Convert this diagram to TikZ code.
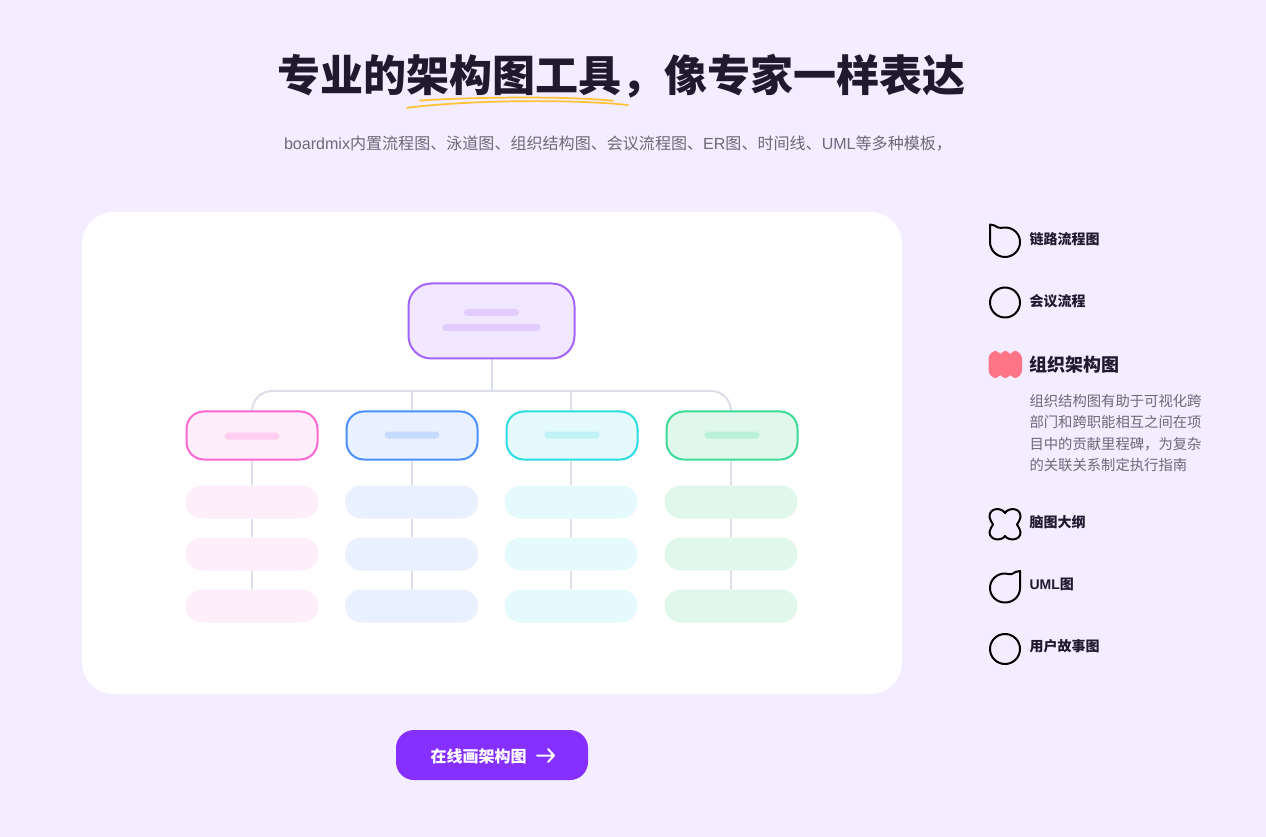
\documentclass[tikz,border=0pt]{standalone}
\usepackage{fontspec}
\setmainfont{Noto Sans CJK SC}
\newfontfamily\lat{Liberation Sans}
\pgfdeclarelayer{panel}
\pgfdeclarelayer{edges}
\pgfsetlayers{panel,edges,main}
\definecolor{pagebg}{HTML}{F4ECFF}
\definecolor{ink}{HTML}{1F1A2E}
\definecolor{soft}{HTML}{6E6879}
\definecolor{conn}{HTML}{DCDFE9}
\definecolor{purS}{HTML}{A463FB}\definecolor{purF}{HTML}{F1E8FF}\definecolor{purB}{HTML}{E0CCFD}
\definecolor{pinS}{HTML}{FF66D2}\definecolor{pinF}{HTML}{FEEEF9}\definecolor{pinB}{HTML}{FFCDF0}
\definecolor{bluS}{HTML}{4A8FFF}\definecolor{bluF}{HTML}{E9F1FE}\definecolor{bluB}{HTML}{C6DCFE}
\definecolor{cyaS}{HTML}{2BDCE3}\definecolor{cyaF}{HTML}{E4FAFC}\definecolor{cyaB}{HTML}{BFF3F6}
\definecolor{greS}{HTML}{3BDB96}\definecolor{greF}{HTML}{E0F7EC}\definecolor{greB}{HTML}{B9F0D6}
\definecolor{under}{HTML}{FFC233}
\definecolor{btn}{HTML}{8530FF}
\definecolor{blob}{HTML}{FF7486}
\newcommand{\sz}[1]{\fontsize{\dimexpr#1pt*3/4\relax}{\dimexpr#1pt*9/10\relax}\selectfont}
\newcommand{\fwc}{\char"FF0C\relax}
\tikzset{
  x=0.75pt,y=-0.75pt,
  rootbox/.style={draw=purS,fill=purF,line width=1.5pt,rounded corners=17pt,minimum width=124.5pt,minimum height=56.25pt,inner sep=0pt},
  cardbox/.style={line width=1.5pt,rounded corners=13pt,minimum width=98.25pt,minimum height=36pt,inner sep=0pt},
  pillbox/.style={rounded corners=12.3pt,minimum width=99.75pt,minimum height=24.75pt,inner sep=0pt},
  barshape/.style={rounded corners=2.6pt,minimum height=5.25pt,inner sep=0pt},
  link/.style={draw=conn,line width=1.5pt},
  icon/.style={draw=black,line width=1.5pt,line join=round},
  item/.style={anchor=west,inner sep=0pt,text=ink,font=\bfseries\sz{14}},
  scribble/.style={draw=under,line width=1.3pt,line cap=round},
}
\begin{document}
\begin{tikzpicture}
\useasboundingbox (0,0) rectangle (1266,837);
\begin{pgfonlayer}{panel}
\fill[pagebg] (0,0) rectangle (1266,837);
\fill[white,rounded corners=24pt] (82,212) rectangle (902,694);
\end{pgfonlayer}

% heading
\node[inner sep=0pt,text=ink,font=\bfseries\sz{43}] (title) at (621,76.5) {专业的架构图工具\fwc 像专家一样表达};
\draw[scribble] (420,100.6) .. controls (470,97) and (570,96) .. (613,100.8);
\draw[scribble] (407,107.8) .. controls (470,100) and (570,99) .. (628,105);
\node[inner sep=0pt,text=soft,font=\sz{16.05}] (sub) at (618,144) {{\lat boardmix}内置流程图、泳道图、组织结构图、会议流程图、{\lat ER}图、时间线、{\lat UML}等多种模板\fwc};

% tree
\node[rootbox] (root) at (491.5,321) {};
\node[barshape,fill=purB,minimum width=41.25pt] (rb1) at (491.5,312.5) {};
\node[barshape,fill=purB,minimum width=73.5pt] (rb2) at (491.5,327.5) {};

\foreach \nm/\cx/\lx/\S/\F/\B/\by in {a/252/252/pinS/pinF/pinB/436,b/412/411.5/bluS/bluF/bluB/435,c/572/571/cyaS/cyaF/cyaB/435,d/732/731/greS/greF/greB/435}{
  \node[cardbox,draw=\S,fill=\F] (card\nm) at (\cx,435.5) {};
  \node[barshape,fill=\B,minimum width=41.25pt] (bar\nm) at (\cx,\by) {};
  \node[pillbox,fill=\F] (pill\nm1) at (\lx,502) {};
  \node[pillbox,fill=\F] (pill\nm2) at (\lx,554) {};
  \node[pillbox,fill=\F] (pill\nm3) at (\lx,606) {};
}
\coordinate (hub) at (root.south |- 0,391);
\begin{pgfonlayer}{edges}
  \draw[link] (root.south) -- (hub);
  \draw[link,rounded corners=15pt] (pilla1.north |- carda.north) |- (hub) -| (pilld1.north |- cardd.north);
  \draw[link] (pillb1.north |- hub) -- (pillb1.north |- cardb.north);
  \draw[link] (pillc1.north |- hub) -- (pillc1.north |- cardc.north);
  \foreach \nm in {a,b,c,d}{
    \draw[link] (pill\nm1.north |- card\nm.south) -- (pill\nm1.north);
    \draw[link] (pill\nm1.south) -- (pill\nm2.north);
    \draw[link] (pill\nm2.south) -- (pill\nm3.north);
  }
\end{pgfonlayer}

% button
\node[fill=btn,rounded corners=13.5pt,minimum width=144pt,minimum height=37.5pt,inner sep=0pt] (button) at (492,755) {};
\node[inner sep=0pt,text=white,font=\bfseries\sz{16}] (btntext) at (478.5,756) {在线画架构图};
\coordinate (arrS) at (537,755.5);
\coordinate (arrE) at (554,755.5);
\draw[white,line width=1.5pt,line cap=round,line join=round] (arrS) -- (arrE) (548,749) -- (arrE) -- (548,762);

% side icons
\draw[icon] (990,224.5) -- (990,242) .. controls (990,250.3) and (996.7,257) .. (1005,257) .. controls (1013.3,257) and (1020,250.3) .. (1020,242) .. controls (1020,233.7) and (1013.3,227.5) .. (1005,227.5) .. controls (1002,227.5) and (1000,228.5) .. (998,227.5) .. controls (996,226) and (993,224.5) .. (990,224.5) -- cycle;
\node[item] (t1) at (1029.3,239) {链路流程图};

\draw[icon] (1005,302.5) circle [radius=11.25pt];
\node[item] (t2) at (1029.3,301) {会议流程};

\fill[blob,rounded corners=6pt] (988.5,351) rectangle (1002,378);
\fill[blob,rounded corners=6pt] (998.5,351) rectangle (1012,378);
\fill[blob,rounded corners=6pt] (1008.5,351) rectangle (1022,378);
\node[item,font=\bfseries\sz{18}] (t3) at (1029.3,365) {组织架构图};
\node[anchor=north west,inner sep=0pt,text=soft,align=left,font=\fontsize{10.75pt}{16.1pt}\selectfont] (t3d) at (1029.3,394) {组织结构图有助于可视化跨\\部门和跨职能相互之间在项\\目中的贡献里程碑\fwc 为复杂\\的关联关系制定执行指南};

\draw[icon] (1005,513) .. controls (1008,507.5) and (1021,507) .. (1020.5,517) .. controls (1020.5,520) and (1018,522) .. (1017,524.5) .. controls (1018,527) and (1020.5,529) .. (1020.5,532) .. controls (1021,541) and (1008,541) .. (1005,536) .. controls (1002,541) and (989.5,541) .. (989.5,532) .. controls (989.5,529) and (992,527) .. (993,524.5) .. controls (992,522) and (989.5,520) .. (989.5,517) .. controls (989,507) and (1002,507.5) .. (1005,513) -- cycle;
\node[item] (t4) at (1029.3,522) {脑图大纲};

\draw[icon] (1020,571) -- (1020,588) .. controls (1020,596.3) and (1013.3,602.5) .. (1005,602.5) .. controls (996.7,602.5) and (990,596.3) .. (990,588) .. controls (990,579.7) and (996.7,573.5) .. (1005,573.5) .. controls (1008,573.5) and (1010,575) .. (1012,574) .. controls (1014,572.5) and (1017,571) .. (1020,571) -- cycle;
\node[item] (t5) at (1029.3,584) {{\lat UML}图};

\draw[icon] (1005,649) circle [radius=11.25pt];
\node[item] (t6) at (1029.3,646) {用户故事图};
\end{tikzpicture}
\end{document}
